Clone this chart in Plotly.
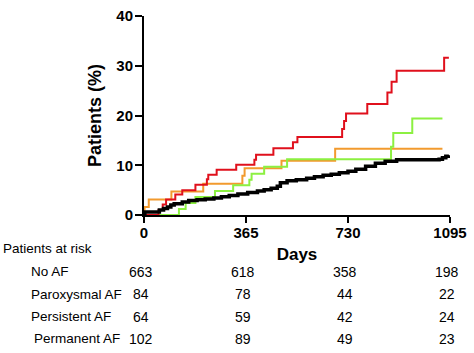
import plotly.graph_objects as go

# ---- data ----
no_af_days = [0, 3, 49, 55, 70, 84, 96, 108, 137, 160, 190, 219, 250, 277, 305, 336, 371, 406, 430, 455,
              477, 488, 512, 545, 582, 610, 641, 670, 699, 730, 758, 793, 828, 863, 904, 1056, 1068, 1080, 1091]
no_af_pct = [0, 0.6, 0.6, 1.0, 1.3, 1.6, 2.0, 2.25, 2.6, 2.9, 3.05, 3.2, 3.4, 3.65, 3.9, 4.2, 4.5, 4.8, 5.1, 5.4,
             5.8, 6.5, 6.9, 7.1, 7.4, 7.7, 8.0, 8.2, 8.5, 8.8, 9.2, 9.8, 10.4, 10.8, 11.1, 11.2, 11.5, 11.8, 12.0]

parox_days = [0, 125, 149, 184, 254, 319, 377, 385, 430, 512, 884, 892, 960, 1068]
parox_pct = [0, 1.2, 2.4, 3.6, 4.8, 6.0, 7.1, 8.3, 9.7, 11.2, 13.7, 16.5, 19.4, 19.4]

persist_days = [0, 2, 17, 98, 212, 352, 360, 492, 684, 1068]
persist_pct = [0, 1.6, 3.1, 4.7, 6.3, 7.9, 9.4, 10.9, 13.3, 13.3]

perm_days = [0, 52, 67, 79, 112, 137, 184, 225, 230, 260, 330, 395, 401, 463, 533, 549, 709, 716, 723, 799, 871, 886, 904, 1074, 1091]
perm_pct = [0, 1.0, 2.1, 3.1, 4.1, 5.0, 6.1, 7.2, 8.1, 9.1, 10.1, 11.1, 12.1, 13.4, 14.6, 15.7, 17.3, 18.9, 20.4, 22.3, 24.6, 26.8, 29.0, 31.6, 31.6]

x_ticks = [0, 365, 730, 1095]
y_ticks = [0, 10, 20, 30, 40]

risk_groups = ["No AF", "Paroxysmal AF", "Persistent AF", "Permanent AF"]
risk_counts = [
    [663, 618, 358, 198],
    [84, 78, 44, 22],
    [64, 59, 42, 24],
    [102, 89, 49, 23],
]

# ---- figure ----
W, H = 474, 353
L, R, T, B = 144, 18, 7, 138
pw, ph = W - L - R, H - T - B


def px_x(px):
    return (px - L) / pw


def px_y(py):
    return (H - B - py) / ph


fig = go.Figure()
fig.add_trace(go.Scatter(x=persist_days, y=persist_pct, mode="lines", line=dict(shape="hv", color="#f29a2e", width=2), name="Persistent AF"))
fig.add_trace(go.Scatter(x=parox_days, y=parox_pct, mode="lines", line=dict(shape="hv", color="#8cf041", width=2), name="Paroxysmal AF"))
fig.add_trace(go.Scatter(x=perm_days, y=perm_pct, mode="lines", line=dict(shape="hv", color="#e0101c", width=2), name="Permanent AF"))
fig.add_trace(go.Scatter(x=no_af_days, y=no_af_pct, mode="lines", line=dict(shape="hv", color="black", width=3.5), name="No AF"))

font_family = "Liberation Sans, Arial, sans-serif"

fig.update_layout(
    width=W, height=H,
    margin=dict(l=L, r=R, t=T, b=B),
    paper_bgcolor="white", plot_bgcolor="white",
    showlegend=False,
    font=dict(family=font_family, color="black"),
    xaxis=dict(
        range=[0, 1095], tickvals=x_ticks, ticktext=[str(v) for v in x_ticks],
        showgrid=False, zeroline=False, showline=True, linecolor="black", linewidth=2,
        ticks="outside", ticklen=6, tickwidth=2, tickcolor="black",
        ticklabelstandoff=-3, ticklabeloverflow="allow",
        tickfont=dict(size=15, weight="bold", family=font_family),
        title=dict(text="Days", font=dict(size=17, weight="bold", family=font_family), standoff=8),
    ),
    yaxis=dict(
        range=[0, 40], tickvals=y_ticks,
        showgrid=False, zeroline=False, showline=True, linecolor="black", linewidth=2,
        ticks="outside", ticklen=7, tickwidth=2, tickcolor="black",
        ticklabelstandoff=-1, ticklabeloverflow="allow",
        tickfont=dict(size=15, weight="bold", family=font_family),
        title=dict(text="Patients (%)", font=dict(size=18, weight="bold", family=font_family), standoff=10),
    ),
)

ann = []
ann.append(dict(text="Patients at risk", xref="paper", yref="paper", x=px_x(-2), y=px_y(250),
                xanchor="left", yanchor="middle", showarrow=False, font=dict(size=13.5)))
row_y = [274.5, 298, 321.5, 344.5]
row_x = [26.7, 26.7, 26.7, 29.3]
for g, yy, xx, counts in zip(risk_groups, row_y, row_x, risk_counts):
    ann.append(dict(text=g, xref="paper", yref="paper", x=px_x(xx), y=px_y(yy),
                    xanchor="left", yanchor="middle", showarrow=False, font=dict(size=13.5)))
    for d, c in zip(x_ticks, counts):
        ann.append(dict(text=str(c), xref="x", yref="paper", x=d, xshift=-3, y=px_y(yy),
                        xanchor="center", yanchor="middle", showarrow=False, font=dict(size=14)))
fig.update_layout(annotations=ann)

fig.write_html("out.html")
